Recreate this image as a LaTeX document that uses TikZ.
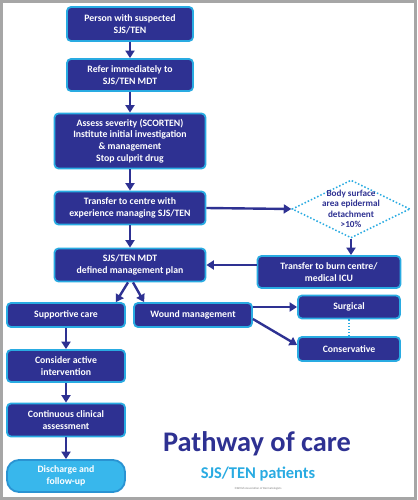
\documentclass[tikz,border=0pt]{standalone}
\usepackage{fontspec}
\setmainfont{Carlito}
\usetikzlibrary{arrows.meta,shapes.geometric}
\definecolor{navy}{HTML}{2E3192}
\definecolor{lblue}{HTML}{29ABE2}
\definecolor{dfill}{HTML}{38B7EC}
\definecolor{frame}{HTML}{A6A6A6}
\begin{document}
\begin{tikzpicture}[x=1bp,y=-1bp,
  box/.style={draw=lblue, line width=1.8bp, fill=navy, rounded corners=4bp, text=white,
    font=\bfseries\fontsize{9.8}{11.8}\selectfont, align=center, inner sep=0pt},
  arr/.style={draw=navy, line width=2.4bp, -{Triangle[length=7.5bp,width=9bp]}},
  dotline/.style={draw=lblue, line width=1.2bp, dotted}]
\useasboundingbox (0,0) rectangle (417,500);
\fill[frame] (0,0) rectangle (417,500);
\fill[white] (3,3) rectangle (414,497);

\node[box, minimum width=126bp, minimum height=34bp] (b1) at (130,24) {Person with suspected\\SJS/TEN};
\node[box, minimum width=126bp, minimum height=32bp] (b2) at (130,75) {Refer immediately to\\SJS/TEN MDT};
\node[box, minimum width=151bp, minimum height=55bp] (b3) at (130,141) {Assess severity (SCORTEN)\\Institute initial investigation\\\& management\\Stop culprit drug};
\node[box, minimum width=151bp, minimum height=33bp] (b4) at (130,208) {Transfer to centre with\\experience managing SJS/TEN};
\node[box, minimum width=151bp, minimum height=33bp] (b5) at (130,265) {SJS/TEN MDT\\defined management plan};
\node[diamond, draw=lblue, line width=1.5bp, dash pattern=on 1.5bp off 2bp, minimum width=118bp, minimum height=58bp, inner sep=0pt] (dia) at (351,209) {};
\node[text=navy, font=\bfseries\fontsize{9.2}{10.5}\selectfont, align=center] (diat) at (351,209) {Body surface\\area epidermal\\detachment\\>10\%};
\node[box, minimum width=143bp, minimum height=32bp] (burn) at (329,272) {Transfer to burn centre/\\medical ICU};
\node[box, minimum width=118bp, minimum height=24bp] (supp) at (66,315) {Supportive care};
\node[box, minimum width=118bp, minimum height=24bp] (wound) at (193,315) {Wound management};
\node[box, minimum width=102bp, minimum height=23bp] (surg) at (349,307) {Surgical};
\node[box, minimum width=102bp, minimum height=24bp] (cons) at (349,349) {Conservative};
\node[box, minimum width=118bp, minimum height=32bp] (consid) at (66,366) {Consider active\\intervention};
\node[box, minimum width=118bp, minimum height=33bp] (cont) at (66,420) {Continuous clinical\\assessment};
\node[box, fill=dfill, draw=lblue!80!navy, rounded corners=12bp, minimum width=118bp, minimum height=32bp] (disch) at (66,476) {Discharge and\\follow-up};

\node[text=navy, font=\bfseries\fontsize{28.5}{30}\selectfont] (title) at (257,444) {Pathway of care};
\node[text=lblue, font=\bfseries\fontsize{16.5}{18}\selectfont] (sub) at (258,474) {SJS/TEN patients};
\node[text=gray, font=\fontsize{3}{3.5}\selectfont] (copy) at (258,489) {©British Association of Dermatologists};

\draw[arr] (b1.south) -- (b2.north);
\draw[arr] (b2.south) -- (b3.north);
\draw[arr] (b3.south) -- (b4.north);
\draw[arr] (b4.south) -- (b5.north);
\draw[arr] (b4.east) -- (dia.west);
\draw[arr] (dia.south) -- (burn.north -| dia.south);
\draw[arr] (burn.west |- b5.east) -- (b5.east);
\draw[arr] ([xshift=-2bp]b5.south) -- ([xshift=-10bp]supp.north east);
\draw[arr] ([xshift=3bp]b5.south) -- ([xshift=11bp]wound.north west);
\draw[arr] (wound.east |- surg.west) -- (surg.west);
\draw[arr] ([yshift=-4bp]wound.east) -- ([yshift=4bp]cons.west);
\draw[dotline] (surg.south) -- (cons.north);
\draw[arr] (supp.south) -- (consid.north);
\draw[arr] (consid.south) -- (cont.north);
\draw[arr] (cont.south) -- (disch.north);
\end{tikzpicture}
\end{document}
